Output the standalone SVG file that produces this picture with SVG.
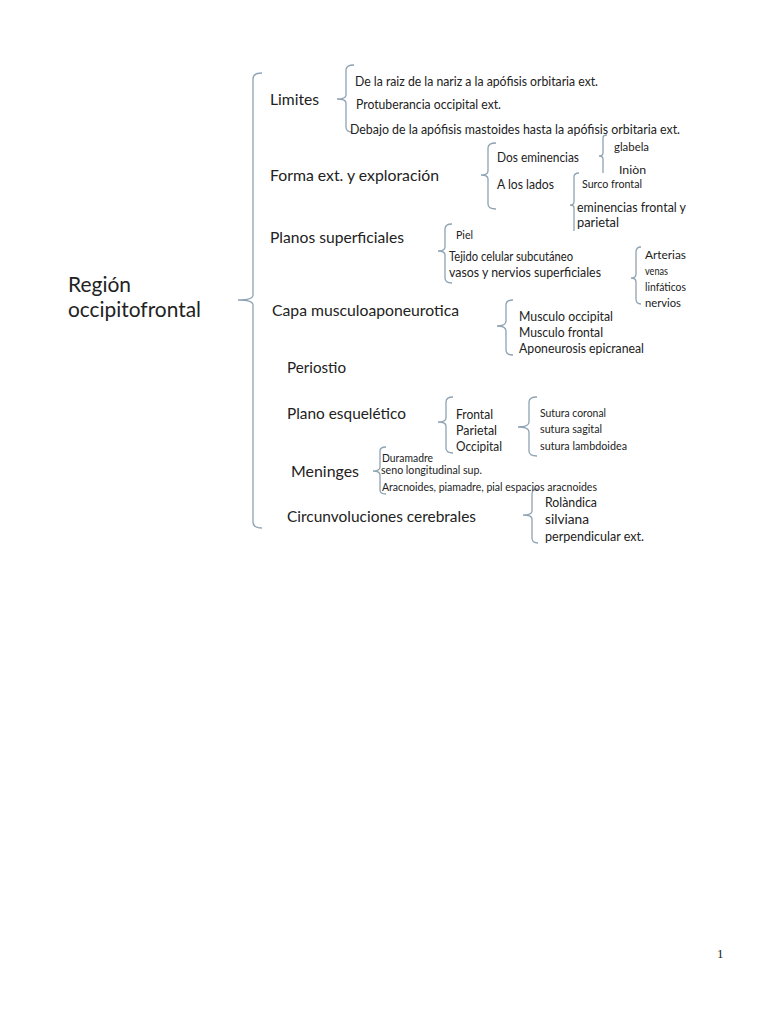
<svg xmlns="http://www.w3.org/2000/svg" width="768" height="1024" viewBox="0 0 768 1024">
<style>
text{font-family:Lato,"Open Sans","Liberation Sans",sans-serif;fill:#222;}
.t1{font-size:21px;}
.t2{font-size:16px;}
.t3{font-size:12.5px;}
.t4{font-size:11px;}
.br{fill:none;stroke:#8ea3b3;stroke-width:1.3;}
</style>
<defs></defs>
<rect width="768" height="1024" fill="#fff"/>
<g id="connectors">
<path class="br" d="M262,73 Q253,73 253,79 L253,295 Q253,300 238,300 Q253,300 253,305 L253,522 Q253,528 262,528"/>
<path class="br" d="M354,65 Q346,65 346,70 L346,95 Q346,99 337,99 Q346,99 346,103 L346,127 Q346,132 352,132"/>
<path class="br" d="M496,143 Q488,143 488,148 L488,171 Q488,175 481,175 Q488,175 488,179 L488,204 Q488,209 496,209"/>
<path class="br" d="M607,135 Q603,135 603,138 L603,153 Q603,156 599,156 Q603,156 603,159 L603,173"/>
<path class="br" d="M579,173 Q574,173 574,177 L574,202 Q574,205 570,205 Q574,205 574,208 L574,231"/>
<path class="br" d="M452,224 Q445,224 445,229 L445,247 Q445,251 438,251 Q445,251 445,255 L445,278 Q445,283 452,283"/>
<path class="br" d="M641,247 Q636,247 636,252 L636,274 Q636,278 631,278 Q636,278 636,282 L636,299 Q636,304 641,304"/>
<path class="br" d="M513,300 Q506,300 506,305 L506,321 Q506,326 497,326 Q506,326 506,331 L506,350 Q506,355 513,355"/>
<path class="br" d="M453,397 Q446,397 446,402 L446,418 Q446,422 438,422 Q446,422 446,426 L446,448 Q446,453 453,453"/>
<path class="br" d="M537,397 Q529,397 529,402 L529,422 Q529,427 518,427 Q529,427 529,432 L529,451 Q529,456 537,456"/>
<path class="br" d="M386,447 Q380,447 380,451 L380,467 Q380,471 373,471 Q380,471 380,475 L380,490 Q380,494 386,494"/>
<path class="br" d="M538,489 Q532,489 532,494 L532,511 Q532,515 523,515 Q532,515 532,519 L532,538 Q532,543 538,543"/>
</g>
<g id="root"><text class="t1" x="68" y="292" textLength="63" lengthAdjust="spacingAndGlyphs">Región</text><text class="t1" x="68" y="317" textLength="133" lengthAdjust="spacingAndGlyphs">occipitofrontal</text></g>
<g id="limites"><text class="t2" x="270" y="105" textLength="49" lengthAdjust="spacingAndGlyphs">Limites</text></g>
<g id="limites-items">
<text class="t3" x="355" y="86" textLength="243" lengthAdjust="spacingAndGlyphs">De la raiz de la nariz a la apófisis orbitaria ext.</text>
<text class="t3" x="356" y="109" textLength="145" lengthAdjust="spacingAndGlyphs">Protuberancia occipital ext.</text>
<text class="t3" x="350" y="134" textLength="330" lengthAdjust="spacingAndGlyphs">Debajo de la apófisis mastoides  hasta la apófisis orbitaria ext.</text>
</g>
<g id="forma"><text class="t2" x="270" y="181" textLength="169" lengthAdjust="spacingAndGlyphs">Forma ext. y exploración</text></g>
<g id="forma-items">
<text class="t3" x="497" y="162" textLength="82" lengthAdjust="spacingAndGlyphs">Dos eminencias</text>
<text class="t3" x="497" y="189" textLength="57" lengthAdjust="spacingAndGlyphs">A los lados</text>
</g>
<g id="eminencias-items">
<text class="t4" x="614" y="151" textLength="35" lengthAdjust="spacingAndGlyphs">glabela</text>
<text class="t4" x="619" y="174" textLength="27" lengthAdjust="spacingAndGlyphs">Iniòn</text>
</g>
<g id="lados-items">
<text class="t4" x="582" y="188" textLength="60" lengthAdjust="spacingAndGlyphs">Surco frontal</text>
<text class="t3" x="577" y="212" textLength="109" lengthAdjust="spacingAndGlyphs">eminencias frontal y</text>
<text class="t3" x="577" y="227" textLength="42" lengthAdjust="spacingAndGlyphs">parietal</text>
</g>
<g id="planos"><text class="t2" x="270" y="243" textLength="134" lengthAdjust="spacingAndGlyphs">Planos superficiales</text></g>
<g id="planos-items">
<text class="t4" x="456" y="239" textLength="17" lengthAdjust="spacingAndGlyphs">Piel</text>
<text class="t3" x="449" y="261" textLength="124" lengthAdjust="spacingAndGlyphs">Tejido celular subcutáneo</text>
<text class="t3" x="449" y="277" textLength="152" lengthAdjust="spacingAndGlyphs">vasos y nervios superficiales</text>
</g>
<g id="vasos-items">
<text class="t4" x="645" y="259" textLength="41" lengthAdjust="spacingAndGlyphs">Arterias</text>
<text class="t4" x="645" y="275" textLength="23" lengthAdjust="spacingAndGlyphs">venas</text>
<text class="t4" x="645" y="291" textLength="41" lengthAdjust="spacingAndGlyphs">linfáticos</text>
<text class="t4" x="645" y="307" textLength="36" lengthAdjust="spacingAndGlyphs">nervios</text>
</g>
<g id="capa"><text class="t2" x="272" y="316" textLength="187" lengthAdjust="spacingAndGlyphs">Capa musculoaponeurotica</text></g>
<g id="capa-items">
<text class="t3" x="519" y="321" textLength="94" lengthAdjust="spacingAndGlyphs">Musculo occipital</text>
<text class="t3" x="519" y="337" textLength="84" lengthAdjust="spacingAndGlyphs">Musculo frontal</text>
<text class="t3" x="519" y="353" textLength="125" lengthAdjust="spacingAndGlyphs">Aponeurosis epicraneal</text>
</g>
<g id="periostio"><text class="t2" x="287" y="373" textLength="59" lengthAdjust="spacingAndGlyphs">Periostio</text></g>
<g id="plano"><text class="t2" x="287" y="419" textLength="119" lengthAdjust="spacingAndGlyphs">Plano esquelético</text></g>
<g id="plano-items">
<text class="t3" x="456" y="419" textLength="37" lengthAdjust="spacingAndGlyphs">Frontal</text>
<text class="t3" x="456" y="435" textLength="41" lengthAdjust="spacingAndGlyphs">Parietal</text>
<text class="t3" x="456" y="451" textLength="46" lengthAdjust="spacingAndGlyphs">Occipital</text>
</g>
<g id="suturas">
<text class="t4" x="540" y="417" textLength="66" lengthAdjust="spacingAndGlyphs">Sutura coronal</text>
<text class="t4" x="540" y="433" textLength="62" lengthAdjust="spacingAndGlyphs">sutura sagital</text>
<text class="t4" x="540" y="450" textLength="87" lengthAdjust="spacingAndGlyphs">sutura lambdoidea</text>
</g>
<g id="meninges"><text class="t2" x="291" y="477" textLength="68" lengthAdjust="spacingAndGlyphs">Meninges</text></g>
<g id="meninges-items">
<text class="t4" x="382" y="462" textLength="51" lengthAdjust="spacingAndGlyphs">Duramadre</text>
<text class="t4" x="381" y="474" textLength="101" lengthAdjust="spacingAndGlyphs">seno longitudinal sup.</text>
<text class="t4" x="382" y="491" textLength="215" lengthAdjust="spacingAndGlyphs">Aracnoides, piamadre, pial espacios aracnoides</text>
</g>
<g id="circunvoluciones"><text class="t2" x="287" y="522" textLength="189" lengthAdjust="spacingAndGlyphs">Circunvoluciones cerebrales</text></g>
<g id="circ-items">
<text class="t3" x="545" y="507" textLength="52" lengthAdjust="spacingAndGlyphs">Rolàndica</text>
<text class="t3" x="545" y="524" textLength="44" lengthAdjust="spacingAndGlyphs">silviana</text>
<text class="t3" x="545" y="541" textLength="99" lengthAdjust="spacingAndGlyphs">perpendicular ext.</text>
</g>
<g id="page"><text x="717" y="958" style="font-family:'Liberation Serif',serif;font-size:13px;">1</text></g>
</svg>
